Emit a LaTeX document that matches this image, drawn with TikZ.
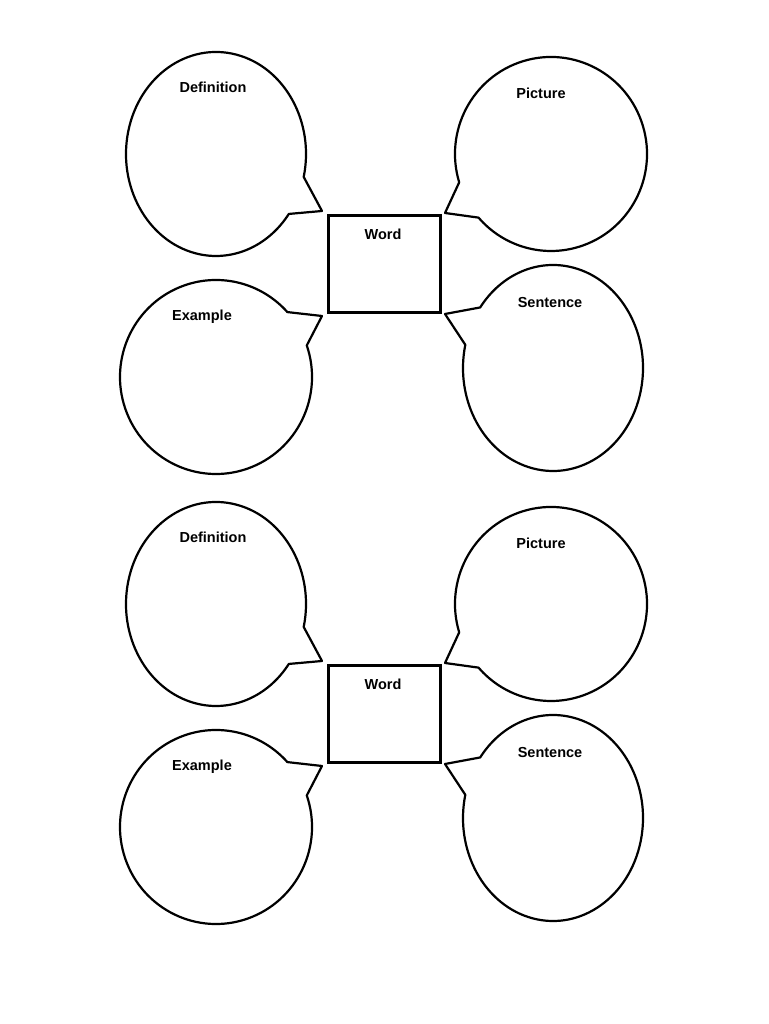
\documentclass[tikz,border=0pt]{standalone}
\usepackage{fontspec}
\setmainfont{Liberation Sans}
\begin{document}
\begin{tikzpicture}[x=1pt,y=1pt,
  bubble/.style={draw=black,line width=2.2pt,line join=round},
  wordbox/.style={draw=black,line width=3pt,inner sep=0pt,minimum width=112pt,minimum height=97pt},
  lbl/.style={font=\fontsize{14.5}{16}\selectfont\bfseries,inner sep=0pt}]
\path[use as bounding box,fill=white] (0,0) rectangle (768,1024);
\foreach \off/\p in {0/a,450/b}{
\begin{scope}[yshift=-\off pt]
 % Definition bubble
 \draw[bubble] (216,870) ++(-13:90pt and 102pt)
   arc[start angle=-13,end angle=324,x radius=90pt,y radius=102pt] -- (322,813) -- cycle;
 % Picture bubble
 \draw[bubble] (551,870) ++(197:96pt and 97pt)
   arc[start angle=197,end angle=-139,x radius=96pt,y radius=97pt] -- (445,811) -- cycle;
 % Example bubble
 \draw[bubble] (216,647) ++(19:96pt and 97pt)
   arc[start angle=19,end angle=-318,x radius=96pt,y radius=97pt] -- (322,708) -- cycle;
 % Sentence bubble
 \draw[bubble] (553,656) ++(167:90pt and 103pt)
   arc[start angle=167,end angle=504,x radius=90pt,y radius=103pt] -- (445,710) -- cycle;
 % Word box
 \node[wordbox] (box\p) at (384,759.5) {};
 \node[lbl] (word\p) at (383,790) {Word};
 \node[lbl] (def\p) at (213,937) {Definition};
 \node[lbl] (pic\p) at (541,931) {Picture};
 \node[lbl] (ex\p) at (202,707) {Example};
 \node[lbl] (sen\p) at (550,721) {Sentence};
\end{scope}
}
\end{tikzpicture}
\end{document}
